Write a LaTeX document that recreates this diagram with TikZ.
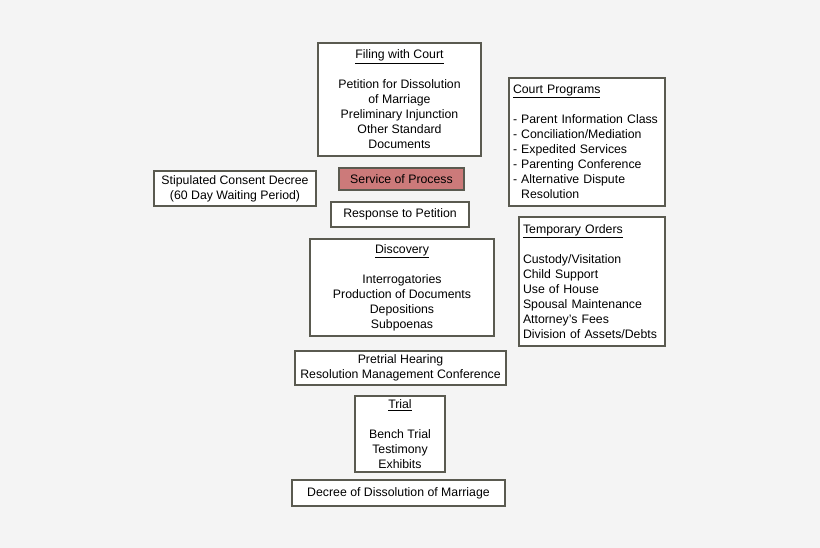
\documentclass[tikz,border=0pt]{standalone}
\usepackage{fontspec}
\setmainfont{Liberation Sans}
\definecolor{bg}{HTML}{F4F4F4}
\definecolor{bd}{HTML}{5A5A50}
\definecolor{sp}{HTML}{CC7A7A}
\begin{document}
\begin{tikzpicture}[x=1pt,y=-1pt,
  box/.style={draw=bd,line width=1.3pt,fill=white,inner sep=0pt,font=\fontsize{12.3}{15}\selectfont,text=black},
  c/.style={box,align=center},
  l/.style={box,align=left}]
\fill[bg] (0,0) rectangle (820,548);
\node[c,minimum width=163,minimum height=113] (filing) at (399.5,99.5) {\underline{Filing with Court}\\[15pt]Petition for Dissolution\\of Marriage\\Preliminary Injunction\\Other Standard\\Documents};
\node[l,minimum width=156,minimum height=128,text width=148] (court) at (587,142) {\underline{Court Programs}\\[15pt]- Parent Information Class\\- Conciliation/Mediation\\- Expedited Services\\- Parenting Conference\\- Alternative Dispute\\\ \ Resolution};
\node[c,minimum width=162,minimum height=35] (stip) at (235,188.5) {Stipulated Consent Decree\\(60 Day Waiting Period)};
\node[c,fill=sp,minimum width=125,minimum height=22] (serv) at (401.5,179) {Service of Process};
\node[c,minimum width=138,minimum height=25] (resp) at (400,214.5) {Response to Petition};
\node[l,minimum width=146,minimum height=129,text width=138] (temp) at (592,281.5) {\underline{Temporary Orders}\\[15pt]Custody/Visitation\\Child Support\\Use of House\\Spousal Maintenance\\Attorney's Fees\\Division of Assets/Debts};
\node[c,minimum width=184,minimum height=97] (disc) at (402,287.5) {\underline{Discovery}\\[15pt]Interrogatories\\Production of Documents\\Depositions\\Subpoenas};
\node[c,minimum width=211,minimum height=34] (pre) at (400.5,368) {Pretrial Hearing\\Resolution Management Conference};
\node[c,minimum width=90,minimum height=76] (trial) at (400,434) {\underline{Trial}\\[15pt]Bench Trial\\Testimony\\Exhibits};
\node[c,minimum width=213,minimum height=26] (decree) at (398.5,493) {Decree of Dissolution of Marriage};
\end{tikzpicture}
\end{document}
